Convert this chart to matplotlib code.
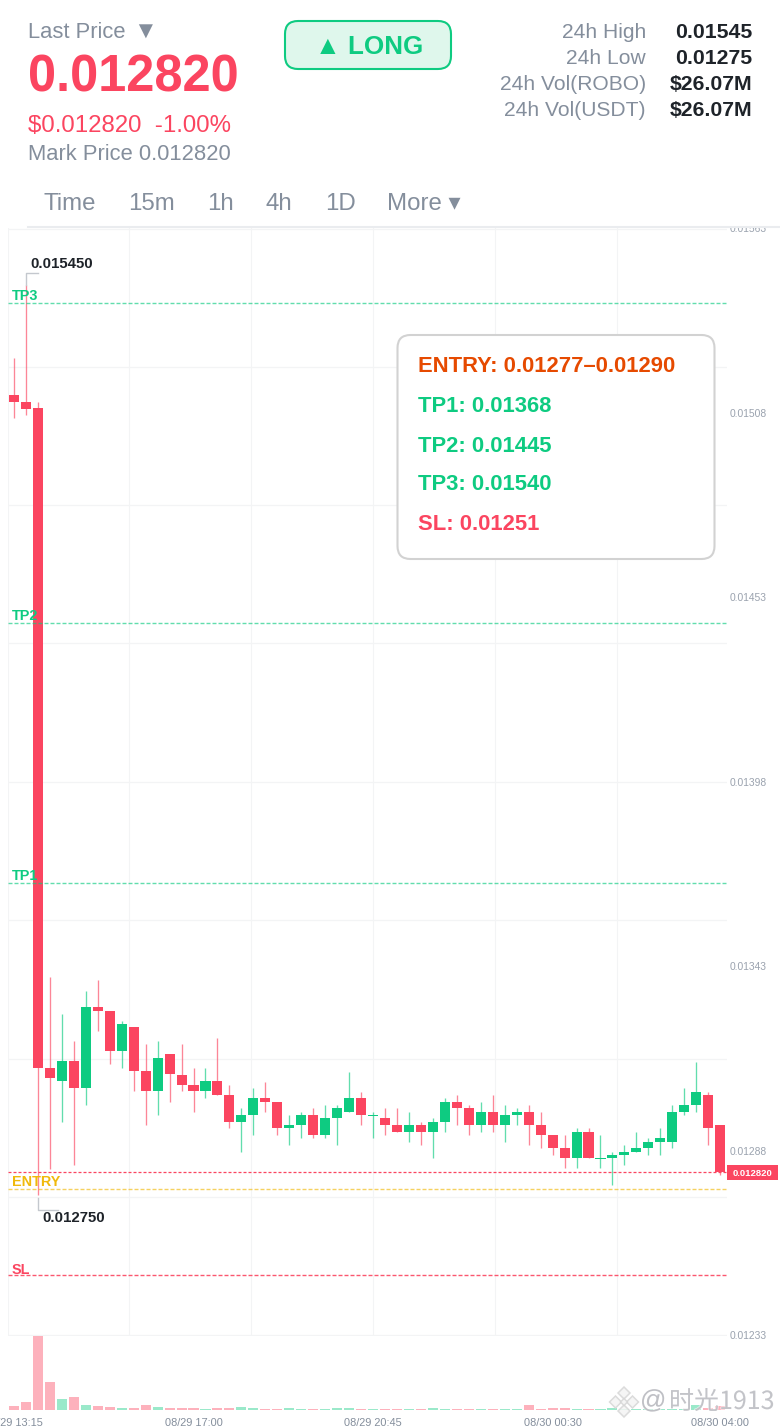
import numpy as np
import matplotlib
matplotlib.use("Agg")
import matplotlib.pyplot as plt
from matplotlib.patches import FancyBboxPatch, Rectangle, Polygon
import matplotlib.patheffects as pe

plt.rcParams['font.family'] = ['Liberation Sans', 'DejaVu Sans']

# Prices in millionths of USDT
opens = [15135,15114,15096,13129,13091,13150,13070,13311,13299,13180,
         13252,13120,13061,13171,13108,13079,13061,13091,13049,12968,
         12989,13040,13028,12951,12959,12989,12930,12980,12998,13040,
         12986,12980,12959,12939,12959,12939,12968,13028,13010,12959,
         12998,12959,12989,12998,12959,12930,12891,12861,12939,12858,
         12861,12870,12879,12891,12909,12909,12998,13019,13049,12959]
closes = [15114,15093,13129,13100,13150,13070,13311,13299,13180,13260,
          13120,13061,13159,13111,13079,13061,13091,13049,12968,12989,
          13040,13028,12951,12959,12989,12930,12980,13010,13040,12989,
          12989,12959,12939,12959,12939,12968,13028,13010,12959,12998,
          12959,12989,12998,12959,12930,12891,12861,12939,12861,12861,
          12870,12879,12891,12909,12921,12998,13019,13058,12951,12820]
highs = [15245,15463,15114,13400,13290,13210,13358,13391,13299,13269,
         13252,13201,13210,13171,13201,13129,13129,13219,13079,13010,
         13070,13088,13028,12989,12998,13010,13019,13019,13117,13058,
         12998,13010,13010,12998,12968,12980,13040,13049,13019,13028,
         13049,13019,13010,13019,12998,12930,12930,12951,12951,12930,
         12879,12900,12939,12921,12951,13019,13070,13147,13058,12959]
lows = [15067,15075,12750,12828,12968,12840,13019,13240,13141,13129,
        13061,12959,12989,13028,13061,12998,13040,13049,12951,12879,
        12930,12998,12930,12900,12921,12921,12921,12900,12998,12959,
        12921,12930,12939,12909,12900,12861,12939,12959,12930,12939,
        12939,12909,12959,12900,12891,12870,12831,12831,12861,12831,
        12780,12840,12879,12870,12870,12891,12989,12998,12900,12810]
volumes = [13,23,222,84,32,40,15,12,9,6,6,15,8,6,5,6,3,6,5,8,5,3,3,5,2,3,2,5,5,2,
           2,2,2,2,2,6,2,2,3,2,2,3,2,15,3,6,6,3,2,3,6,3,2,2,3,3,3,15,6,13]

levels = {'TP3': 15408, 'TP2': 14455, 'TP1': 13681, 'ENTRY': 12769, 'SL': 12511}
last_price = 12820
price_range = [12330, 15633]
grid_prices = [12332,12745,13157,13570,13982,14395,14807,15220,15631]
grid_x = [9.65,19.8,30.0,40.2,50.4]
ytick_prices = [15630,15080,14530,13980,13430,12880,12330]
ytick_labels = ['0.01563','0.01508','0.01453','0.01398','0.01343','0.01288','0.01233']
xtick_idx = [0,15,30,45,59]
xtick_labels = ['08/29 13:15','08/29 17:00','08/29 20:45','08/30 00:30','08/30 04:00']

GREEN = '#0ECB81'; RED = '#FB4560'; GREY = '#848E9C'; DARK = '#1E2329'; GRID = '#F3F4F5'
W, H = 780, 1428
U = 1e-6

fig = plt.figure(figsize=(W/100, H/100), dpi=100, facecolor='white')
def pos(x0, y0, x1, y1):
    return [x0/W, 1-y1/H, (x1-x0)/W, (y1-y0)/H]

XLIM = (-0.5, 59.57)
ax = fig.add_axes(pos(8, 228, 727, 1336))
ax.set_xlim(*XLIM); ax.set_ylim(price_range[0]*U, price_range[1]*U)
ax.axis('off')
idx = np.arange(len(opens))
o, c, hi, lo = (np.array(a)*U for a in (opens, closes, highs, lows))
cols = [GREEN if cc >= oo else RED for oo, cc in zip(o, c)]
for g in grid_prices:
    ax.axhline(g*U, color=GRID, lw=0.9, zorder=1)
for g in grid_x:
    ax.axvline(g, color=GRID, lw=0.8, zorder=1)
ax.axvline(XLIM[0], color=GRID, lw=0.8, zorder=1)
ax.vlines(idx, lo, hi, colors=cols, lw=0.95, alpha=0.65, zorder=2)
ax.bar(idx, np.maximum(np.abs(c-o), 1.5*U), bottom=np.minimum(o, c), width=0.84, color=cols, zorder=3)
for name, val in levels.items():
    col = {'ENTRY': '#F0B90B', 'SL': RED}.get(name, GREEN)
    ax.axhline(val*U, color=col, lw=1.0, ls=(0, (2.88, 1.44)), alpha=0.65 if name != 'SL' else 0.9, zorder=4)
ax.axhline(last_price*U, color=RED, lw=0.9, ls=(0, (2.4, 1.6)), zorder=4)

vx = fig.add_axes(pos(8, 1336, 727, 1410))
vx.set_xlim(*XLIM); vx.set_ylim(0, max(volumes)); vx.axis('off')
vx.bar(idx, volumes, width=0.84, color=cols, alpha=0.42)

ov = fig.add_axes([0, 0, 1, 1], zorder=10)
ov.set_xlim(0, W); ov.set_ylim(H, 0); ov.axis('off'); ov.patch.set_alpha(0)
def T(x, y, s, px, color=GREY, weight='normal', ha='left', **k):
    return ov.text(x, y + 1.5, s, fontsize=px*0.72, color=color, fontweight=weight, ha=ha, va='center', **k)

# Header
T(28, 31, 'Last Price', 22)
T(133, 31, '▼', 24)
T(28, 77, '0.012820', 50.5, RED, 'bold')
T(28, 124, '$0.012820  -1.00%', 24, RED)
T(28, 153, 'Mark Price 0.012820', 22)
ov.add_patch(FancyBboxPatch((285, 21), 166, 48, boxstyle='round,pad=0,rounding_size=13',
                            fc='#DFF7EC', ec=GREEN, lw=1.5))
T(369, 45, '▲ LONG', 26, GREEN, 'bold', ha='center')
for y, lab, val in [(31, '24h High', '0.01545'), (57, '24h Low', '0.01275'),
                    (83, '24h Vol(ROBO)', '$26.07M'), (109, '24h Vol(USDT)', '$26.07M')]:
    T(646, y, lab, 21, ha='right')
    T(752, y, val, 21.3, DARK, 'bold', ha='right')
for x, lab in [(44, 'Time'), (128, '15m'), (207, '1h'), (266, '4h'), (325, '1D'), (387, 'More ▾')]:
    T(x, 202, lab, 24)
ov.plot([28, 780], [227, 227], color='#EAECEF', lw=1.5)

# Signal box
ov.add_patch(FancyBboxPatch((397.5, 335), 317, 224, boxstyle='round,pad=0,rounding_size=13',
                            fc='white', ec='#D2D2D2', lw=1.5, zorder=5))
for y, s, col in [(365, 'ENTRY: 0.01277–0.01290', '#E64A00'), (405, 'TP1: 0.01368', GREEN),
                  (445, 'TP2: 0.01445', GREEN), (483, 'TP3: 0.01540', GREEN), (523, 'SL: 0.01251', RED)]:
    T(418, y, s, 22, col, 'bold', zorder=6)

# Level labels
for y, s, col in [(295, 'TP3', GREEN), (615, 'TP2', GREEN), (874, 'TP1', GREEN),
                  (1180, 'ENTRY', '#F0B90B'), (1268, 'SL', RED)]:
    T(12, y, s, 14.4, col, 'bold')

# Y labels
clip = Rectangle((727, 228), 53, 1200, transform=ov.transData)
for p, s in zip(ytick_prices, ytick_labels):
    frac = (p - price_range[0]) / (price_range[1] - price_range[0])
    t = T(730, 1334.5 - frac*1108, s, 10.3, '#9AA2AE', clip_on=True)
    t.set_clip_path(clip)
ov.add_patch(Rectangle((727, 1165), 51, 15, fc=RED, ec='none'))
T(752.5, 1172, '0.012820', 9.5, 'white', 'bold', ha='center')

# X labels
for i, s in zip(xtick_idx, xtick_labels):
    T(14 + i*11.97, 1421, s, 11, ha='center')

# High / low callouts
ov.plot([25.5, 25.5, 38], [285, 273, 273], color='#C4C8CE', lw=1)
T(30, 263, '0.015450', 15, DARK, 'bold')
ov.plot([38, 38, 58], [1198, 1209.5, 1209.5], color='#C4C8CE', lw=1)
T(42, 1216, '0.012750', 15, DARK, 'bold')

# Watermark
for cx, cy, r in [(624, 1393, 6), (615.5, 1402, 6), (632.5, 1402, 6), (624, 1411, 6), (624, 1402, 3.5)]:
    ov.add_patch(Polygon([(cx, cy-r), (cx+r, cy), (cx, cy+r), (cx-r, cy)], fc='#F4F4F4', ec='#D6D6D6', lw=1.1, alpha=0.85))
fx = [pe.withStroke(linewidth=1.2, foreground='white', alpha=0.6)]
ov.text(640, 1401, '@', fontsize=26*0.72, color='#BFC0C5', va='center', path_effects=fx)
ov.text(669, 1402, '时光1913', fontsize=25*0.72, color='#BFC0C5', va='center', alpha=0.9,
        family=['Noto Sans CJK SC', 'DejaVu Sans'], path_effects=fx)

fig.savefig('out.png', dpi=100, facecolor='white')
